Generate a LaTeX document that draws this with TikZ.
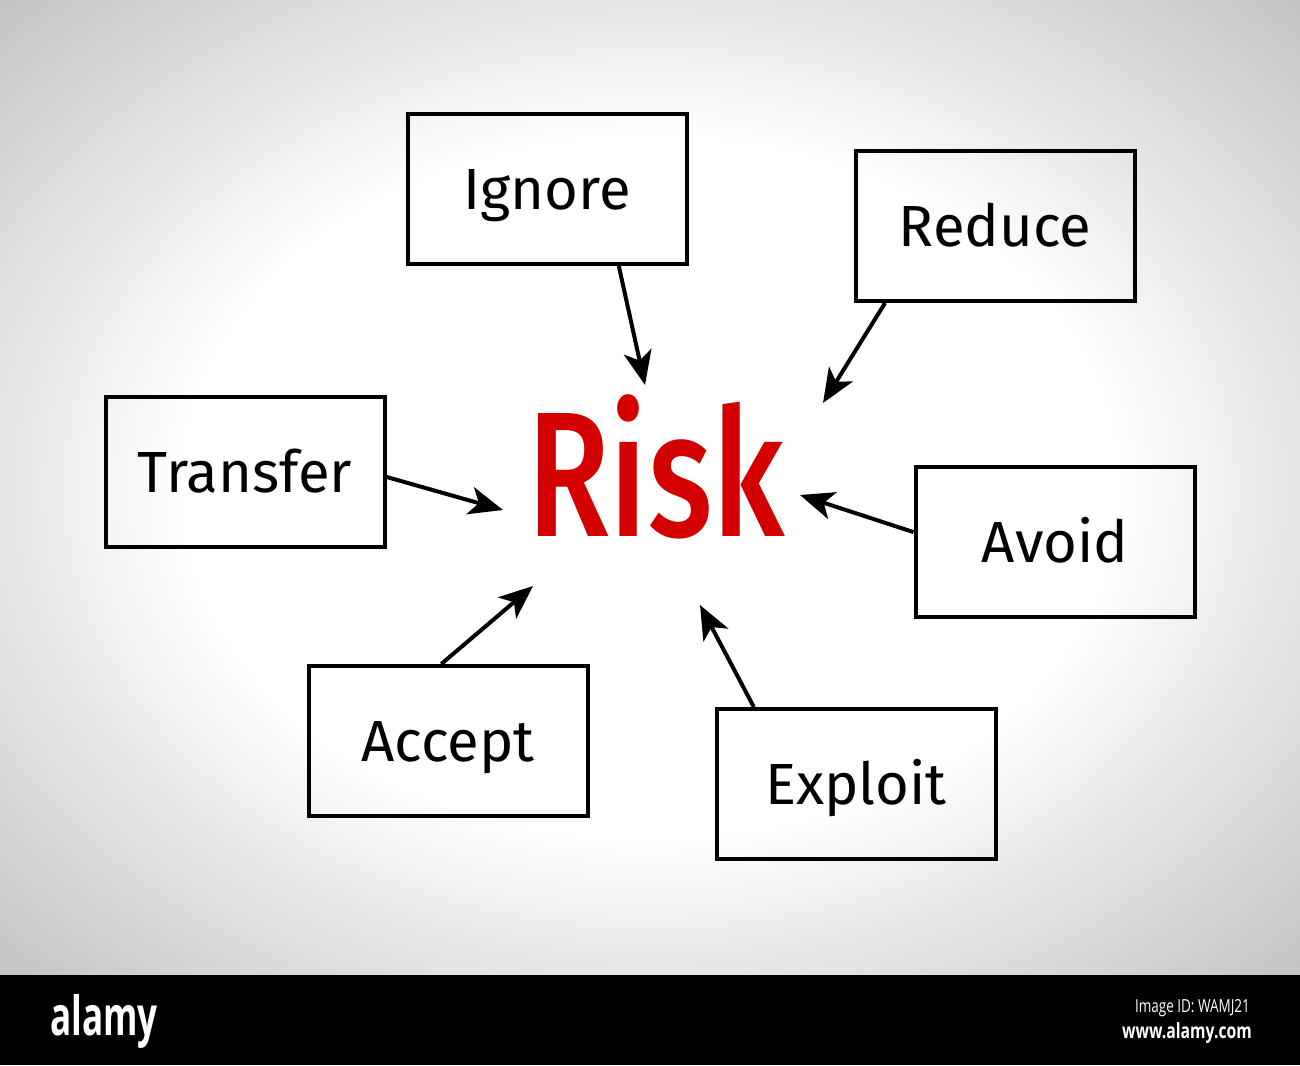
\documentclass[tikz,border=0pt]{standalone}
\usepackage{fontspec}
\usepackage{graphicx}
\setmainfont{Fira Sans}
\newfontfamily\riskfont{Fira Sans Medium}
\newfontfamily\alamyfont{Open Sans}
\usetikzlibrary{arrows.meta}
\definecolor{riskred}{HTML}{D40000}
\pgfdeclareradialshading{vignette}{\pgfpoint{0bp}{0bp}}{color(0bp)=(white);
  color(18bp)=(white); color(25bp)=(black!10); color(36bp)=(black!24);
  color(50bp)=(black!24)}

\begin{document}
\begin{tikzpicture}[x=1pt,y=-1pt,
  box/.style={draw,line width=4pt,minimum width=279pt,minimum height=150pt,
    inner sep=0pt,font=\fontsize{58}{58}\selectfont,text height=40pt,text depth=0pt},
  arrow/.style={line width=4pt,-{Stealth[length=34pt,width=28pt,inset=9pt]}}]
\useasboundingbox (0,0) rectangle (1300,1065);
\shade[shading=vignette] (0,0) rectangle (1300,975);
\fill[black] (0,975) rectangle (1300,1065);

\node[box] (ignore)   at (547,189)  {Ignore};
\node[box] (reduce)   at (995,226)  {Reduce};
\node[box] (transfer) at (245,472)  {Transfer};
\node[box] (avoid)    at (1055,542) {Avoid};
\node[box] (accept)   at (448,741)  {Accept};
\node[box] (exploit)  at (856,784)  {Exploit};
\node[text=riskred,font=\riskfont\fontsize{178}{178}\selectfont,inner sep=0pt,
  text height=123pt,text depth=0pt] (risk) at (656,475) {\scalebox{0.76}[1]{Risk}};

\coordinate (ignore tip)   at (645,385);
\coordinate (reduce tip)   at (823,403);
\coordinate (transfer tip) at (503,510);
\coordinate (avoid tip)    at (800,495);
\coordinate (accept tip)   at (533,586);
\coordinate (exploit tip)  at (700,605);

\draw[arrow] (ignore.-47)   -- (ignore tip);
\draw[arrow] (reduce.-145)  -- (reduce tip);
\draw[arrow] (transfer.-2)  -- (transfer tip);
\draw[arrow] (avoid.176)    -- (avoid tip);
\draw[arrow] (accept.95)    -- (accept tip);
\draw[arrow] (exploit.143)  -- (exploit tip);

\node[text=white,font=\alamyfont\bfseries\fontsize{54}{54}\selectfont,anchor=base west,
  inner sep=0pt] (alamy) at (50,1035) {\scalebox{0.65}[1]{alamy}};
\node[text=white,font=\alamyfont\fontsize{18}{18}\selectfont,anchor=base east,
  inner sep=0pt] (imageid) at (1250,1012) {\scalebox{0.75}[1]{Image ID: WAMJ21}};
\node[text=white,font=\alamyfont\bfseries\fontsize{21}{21}\selectfont,anchor=base east,
  inner sep=0pt] (site) at (1252,1038) {\scalebox{0.75}[1]{www.alamy.com}};
\end{tikzpicture}
\end{document}
